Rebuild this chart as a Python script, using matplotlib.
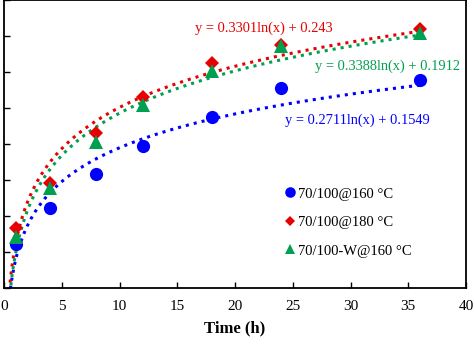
"""
Logarithmic fits of three binder ageing series against time
"""
import matplotlib.pyplot as plt
import numpy as np

plt.rcParams["font.family"] = ["Liberation Serif", "DejaVu Serif"]

# Measured points
time_h = [1, 4, 8, 12, 18, 24, 36]
blue_160 = [0.246, 0.443, 0.633, 0.789, 0.950, 1.111, 1.156]
red_180 = [0.333, 0.583, 0.861, 1.061, 1.250, 1.350, 1.440]
green_w160 = [0.283, 0.555, 0.811, 1.017, 1.206, 1.344, 1.417]

labels = ["70/100@160 °C", "70/100@180 °C", "70/100-W@160 °C"]

# Trend line coefficients: y = a ln(x) + b
fit_a = [0.2711, 0.3301, 0.3388]
fit_b = [0.1549, 0.243, 0.1912]
fit_text = ["y = 0.2711ln(x) + 0.1549",
            "y = 0.3301ln(x) + 0.243",
            "y = 0.3388ln(x) + 0.1912"]

x_ticks = [0, 5, 10, 15, 20, 25, 30, 35, 40]
y_ticks = [0, 0.2, 0.4, 0.6, 0.8, 1.0, 1.2, 1.4, 1.6]


def plot_fits():
    fig = plt.figure(figsize=(4.74, 3.48), dpi=100)
    ax = fig.add_axes([4 / 474, 60 / 348, 462 / 474, 288 / 348])

    colors = ["#0000ff", "#e60000", "#00a050"]
    markers = ["o", "D", "^"]
    sizes = [9.5, 7, 9.5]
    series = [blue_160, red_180, green_w160]
    text_pos = [(24.3, 0.933), (16.5, 1.444), (26.9, 1.233)]

    x_fit = np.linspace(0.4, max(time_h), 400)
    for a, b, c in zip(fit_a, fit_b, colors):
        ax.plot(x_fit, a * np.log(x_fit) + b, linestyle=":", color=c,
                linewidth=2.2, zorder=2)

    for y, c, m, s, lab in zip(series, colors, markers, sizes, labels):
        ax.plot(time_h, y, linestyle="none", marker=m, color=c,
                markersize=s, markeredgewidth=0, label=lab, zorder=3)

    for (tx, ty), txt, c in zip(text_pos, fit_text, colors):
        ax.text(tx, ty, txt, color=c, fontsize=10.4, va="center", ha="left")

    ax.set_xlim(0, 40)
    ax.set_ylim(0, 1.6)
    ax.set_xticks(x_ticks)
    ax.set_yticks(y_ticks)
    ax.tick_params(direction="in", length=4, width=1, labelsize=11,
                   labelleft=False, pad=9)
    for sp in ax.spines.values():
        sp.set_linewidth(1.3)
    ax.set_xlabel("Time (h)", fontsize=12, fontweight="bold", labelpad=5)

    ax.legend(loc="upper left", bbox_to_anchor=(0.585, 0.385), frameon=False,
              fontsize=10.5, handletextpad=0.15, handlelength=0.8,
              labelspacing=1.05, borderpad=0.2, markerscale=0.8)

    fig.savefig("out.png", dpi=100)
    plt.close(fig)


if __name__ == "__main__":
    plot_fits()
